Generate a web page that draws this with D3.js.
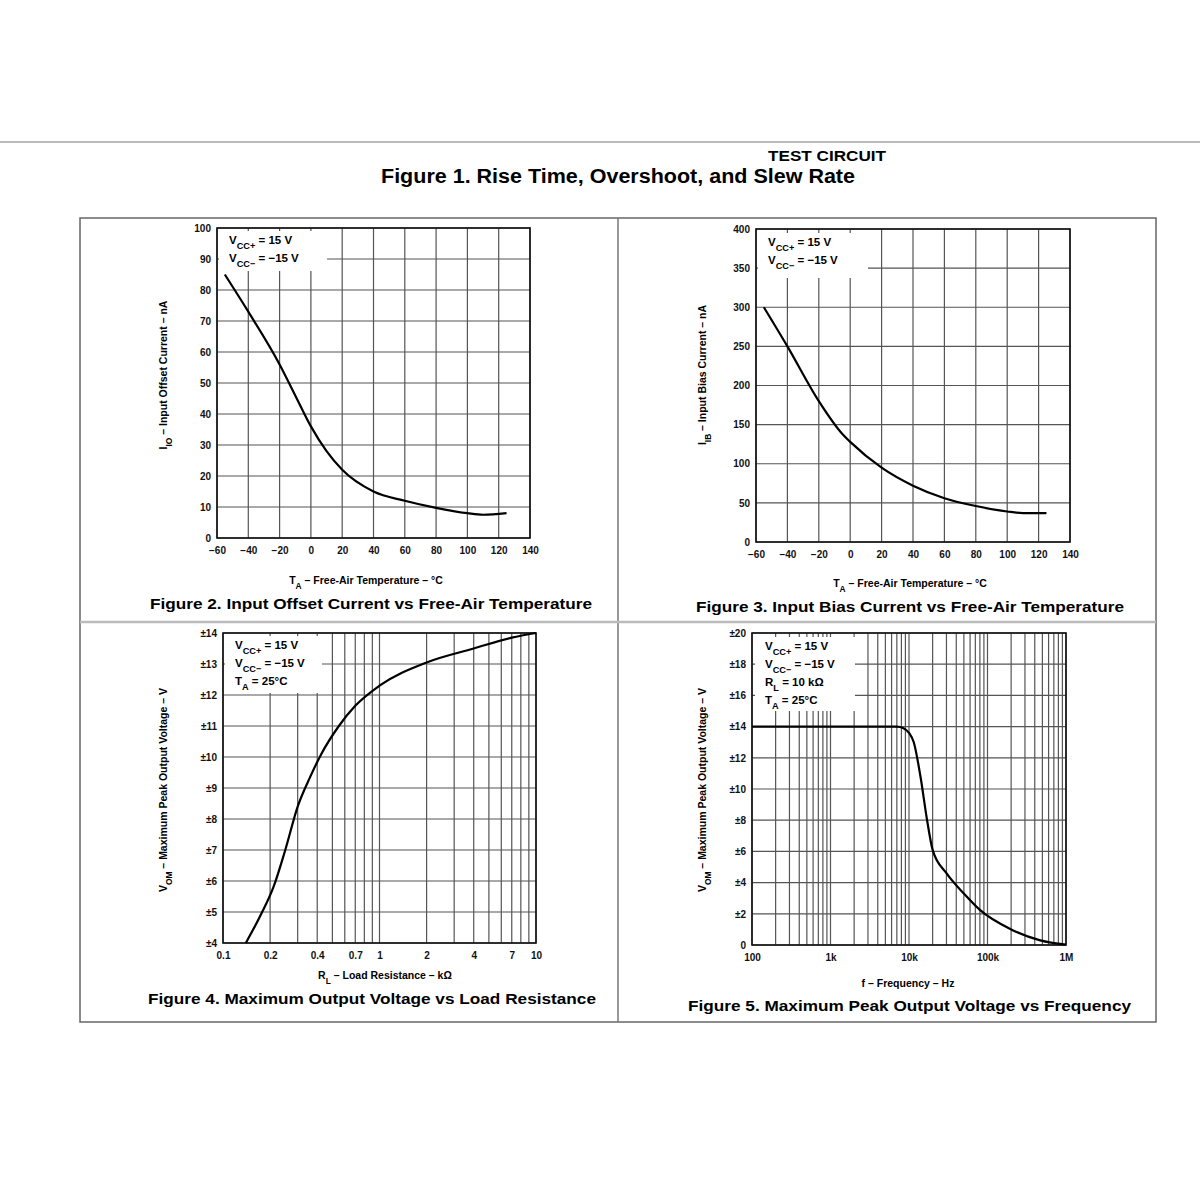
<!DOCTYPE html>
<html><head><meta charset="utf-8">
<script src="https://cdn.jsdelivr.net/npm/d3@7"></script>
<style>
body{margin:0;background:#fff;}
svg{display:block;font-family:"Liberation Sans",Arial,sans-serif;font-weight:bold;}
</style></head>
<body><svg id="c" width="1200" height="1200"></svg>
<script>
// ---------- data ----------
const fig2Temp   = [-55,-40,-20,-10,0,10,20,40,60,80,100,110,125];
const fig2Iio    = [85,73,56,46,36,28,22,15,12,9.7,8,7.5,8];
const fig3Temp   = [-55,-40,-20,-5,0,20,40,60,80,100,110,125];
const fig3Iib    = [300,250,180,138,128,95,72,56,46,39,37,37];
const fig4Rl     = [0.14,0.176,0.21,0.25,0.3,0.36,0.42,0.55,0.7,1,2,4,7,10];
const fig4Vom    = [4,4.95,5.8,7,8.4,9.35,10.05,11,11.65,12.3,13.05,13.5,13.85,14];
const fig5Freq   = [100,7000,8500,10000,11500,14000,17000,20000,30000,50000,80000,200000,470000,1000000];
const fig5Vom    = [14,14,13.9,13.6,13,10.8,8,6.1,4.6,3.3,2.25,1.0,0.3,0.02];

const tempTicks  = [-60,-40,-20,0,20,40,60,80,100,120,140];
const iioTicks   = [0,10,20,30,40,50,60,70,80,90,100];
const iibTicks   = [0,50,100,150,200,250,300,350,400];
const rlTicks    = [0.1,0.2,0.4,0.7,1,2,4,7,10];
const rlTickLbl  = ["0.1","0.2","0.4","0.7","1","2","4","7","10"];
const vom4Ticks  = [4,5,6,7,8,9,10,11,12,13,14];
const freqTicks  = [100,1000,10000,100000,1000000];
const freqTickLbl= ["100","1k","10k","100k","1M"];
const vom5Ticks  = [0,2,4,6,8,10,12,14,16,18,20];

const svg = d3.select("#c");
const minus = s => String(s).replace("-", "\u2212");

// page rule and frame
svg.append("line").attr("x1",0).attr("x2",1200).attr("y1",142).attr("y2",142)
  .attr("stroke","#bbb").attr("stroke-width",2);
svg.append("text").attr("x",768).attr("y",161).attr("font-size",15).attr("textLength",118)
  .attr("lengthAdjust","spacingAndGlyphs").text("TEST CIRCUIT");
svg.append("text").attr("x",381).attr("y",183).attr("font-size",20).attr("textLength",474)
  .attr("lengthAdjust","spacingAndGlyphs").text("Figure 1. Rise Time, Overshoot, and Slew Rate");

svg.append("rect").attr("x",80).attr("y",218).attr("width",1076).attr("height",804)
  .attr("fill","none").attr("stroke","#666").attr("stroke-width",1.5);
svg.append("line").attr("x1",618).attr("x2",618).attr("y1",218).attr("y2",1022).attr("stroke","#777").attr("stroke-width",1.5);
svg.append("line").attr("x1",80).attr("x2",1156).attr("y1",622).attr("y2",622).attr("stroke","#bbb").attr("stroke-width",2.5);

function addSub(sel, parts){
  parts.forEach(p=>{
    const t = sel.append("tspan").text(p[0]);
    if(p[1]) t.attr("baseline-shift","sub").attr("font-size","80%");
  });
}

function panel(o){
  const g = svg.append("g");
  const x = o.xlog ? d3.scaleLog().domain(o.xdom).range([o.l,o.r]) : d3.scaleLinear().domain(o.xdom).range([o.l,o.r]);
  const y = d3.scaleLinear().domain(o.ydom).range([o.b,o.t]);
  // grid
  g.selectAll(".vg").data(o.xgrid).join("line")
    .attr("x1",d=>x(d)).attr("x2",d=>x(d)).attr("y1",o.t).attr("y2",o.b)
    .attr("stroke","#555").attr("stroke-width",1.2);
  g.selectAll(".hg").data(o.ygrid).join("line")
    .attr("x1",o.l).attr("x2",o.r).attr("y1",d=>y(d)).attr("y2",d=>y(d))
    .attr("stroke","#555").attr("stroke-width",1.2);
  // annotation box
  g.append("rect").attr("x",o.box[0]).attr("y",o.box[1]).attr("width",o.box[2]).attr("height",o.box[3]).attr("fill","#fff");
  o.notes.forEach((n,i)=>{
    const t = g.append("text").attr("x",o.box[0]+10).attr("y",o.box[1]+13+i*18).attr("font-size",11.5);
    addSub(t,n);
  });
  // frame
  g.append("rect").attr("x",o.l).attr("y",o.t).attr("width",o.r-o.l).attr("height",o.b-o.t)
    .attr("fill","none").attr("stroke","#111").attr("stroke-width",1.6);
  // axes labels via d3 axes
  const ax = d3.axisBottom(x).tickValues(o.xticks).tickSize(0).tickPadding(9)
    .tickFormat((d,i)=>o.xlbl?o.xlbl[i]:minus(d));
  const xa = g.append("g").attr("transform",`translate(0,${o.b})`).call(ax);
  const ay = d3.axisLeft(y).tickValues(o.yticks).tickSize(0).tickPadding(6)
    .tickFormat(d=>o.ypm && d!==0 ? "\u00b1"+d : d);
  const ya = g.append("g").attr("transform",`translate(${o.l},0)`).call(ay);
  [xa,ya].forEach(a=>{a.select(".domain").remove();
    a.selectAll("text").attr("font-size",10).attr("font-family","'Liberation Sans',Arial,sans-serif").attr("font-weight","bold").attr("fill","#111");});
  // curve
  const line = d3.line().x(d=>x(d[0])).y(d=>y(d[1])).curve(d3.curveMonotoneX);
  g.append("path").datum(d3.zip(o.xs,o.ys)).attr("d",line)
    .attr("fill","none").attr("stroke","#000").attr("stroke-width",2.2);
  // axis titles
  const xt = g.append("text").attr("x",o.xt[0]).attr("y",o.xt[1]).attr("text-anchor","middle").attr("font-size",10.5);
  addSub(xt,o.xtitle);
  const yt = g.append("text").attr("transform",`translate(${o.yt[0]},${o.yt[1]}) rotate(-90)`).attr("text-anchor","middle").attr("font-size",10.5);
  addSub(yt,o.ytitle);
  g.append("text").attr("x",o.cap[0]).attr("y",o.cap[1]).attr("font-size",15).attr("textLength",o.cap[2])
    .attr("lengthAdjust","spacingAndGlyphs").text(o.caption);
}

const logGrid = (a,b)=>{const r=[];for(let e=a;e<b;e*=10){for(let k=1;k<10;k++)r.push(e*k);}r.push(b);return r;};

panel({l:217,r:530,t:228,b:538,xdom:[-60,140],ydom:[0,100],
  xgrid:tempTicks,ygrid:iioTicks,xticks:tempTicks,yticks:iioTicks,
  xs:fig2Temp,ys:fig2Iio,box:[219,231,108,40],
  notes:[[["V"],["CC+",1],[" = 15 V"]],[["V"],["CC\u2212",1],[" = \u221215 V"]]],
  xt:[366,584],xtitle:[["T"],["A",1],[" \u2013 Free-Air Temperature \u2013 \u00b0C"]],
  yt:[167,375],ytitle:[["I"],["IO",1],[" \u2013 Input Offset Current \u2013 nA"]],
  cap:[150,609,442],caption:"Figure 2. Input Offset Current vs Free-Air Temperature"});

panel({l:756,r:1070,t:229,b:542,xdom:[-60,140],ydom:[0,400],
  xgrid:tempTicks,ygrid:iibTicks,xticks:tempTicks,yticks:iibTicks,
  xs:fig3Temp,ys:fig3Iib,box:[758,233,110,45],
  notes:[[["V"],["CC+",1],[" = 15 V"]],[["V"],["CC\u2212",1],[" = \u221215 V"]]],
  xt:[910,587],xtitle:[["T"],["A",1],[" \u2013 Free-Air Temperature \u2013 \u00b0C"]],
  yt:[706,375],ytitle:[["I"],["IB",1],[" \u2013 Input Bias Current \u2013 nA"]],
  cap:[696,612,428],caption:"Figure 3. Input Bias Current vs Free-Air Temperature"});

panel({l:223,r:536,t:633,b:943,xlog:true,xdom:[0.1,10],ydom:[4,14],ypm:true,
  xgrid:logGrid(0.1,10),ygrid:vom4Ticks,xticks:rlTicks,xlbl:rlTickLbl,yticks:vom4Ticks,
  xs:fig4Rl,ys:fig4Vom,box:[225,636,97,57],
  notes:[[["V"],["CC+",1],[" = 15 V"]],[["V"],["CC\u2212",1],[" = \u221215 V"]],[["T"],["A",1],[" = 25\u00b0C"]]],
  xt:[385,979],xtitle:[["R"],["L",1],[" \u2013 Load Resistance \u2013 k\u03a9"]],
  yt:[167,790],ytitle:[["V"],["OM",1],[" \u2013 Maximum Peak Output Voltage \u2013 V"]],
  cap:[148,1004,448],caption:"Figure 4. Maximum Output Voltage vs Load Resistance"});

panel({l:752,r:1066,t:633,b:945,xlog:true,xdom:[100,1000000],ydom:[0,20],ypm:true,
  xgrid:logGrid(100,1000000),ygrid:vom5Ticks,xticks:freqTicks,xlbl:freqTickLbl,yticks:vom5Ticks,
  xs:fig5Freq,ys:fig5Vom,box:[755,637,100,74],
  notes:[[["V"],["CC+",1],[" = 15 V"]],[["V"],["CC\u2212",1],[" = \u221215 V"]],[["R"],["L",1],[" = 10 k\u03a9"]],[["T"],["A",1],[" = 25\u00b0C"]]],
  xt:[908,987],xtitle:[["f \u2013 Frequency \u2013 Hz"]],
  yt:[706,790],ytitle:[["V"],["OM",1],[" \u2013 Maximum Peak Output Voltage \u2013 V"]],
  cap:[688,1011,443],caption:"Figure 5. Maximum Peak Output Voltage vs Frequency"});
</script></body></html>
